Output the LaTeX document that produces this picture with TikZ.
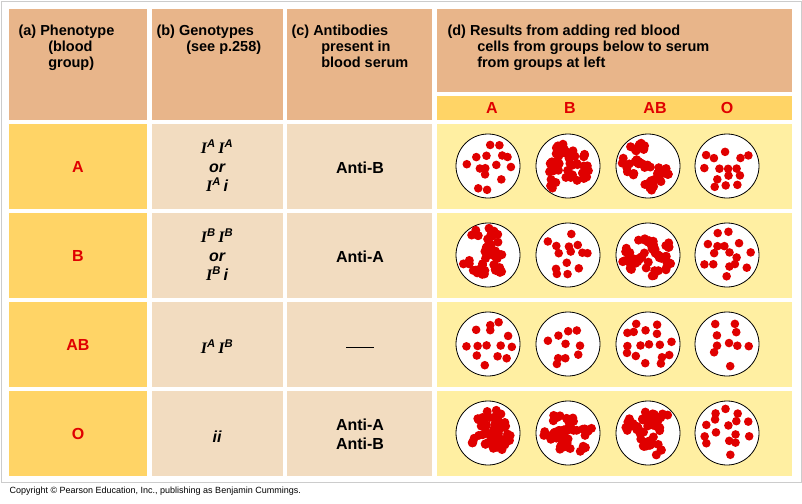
\documentclass[tikz,border=0pt]{standalone}
\usepackage{fontspec}
\setmainfont{Liberation Sans}
\newfontfamily\serifI{Liberation Serif}
\usetikzlibrary{calc}
\definecolor{hdr}{HTML}{E8B58A}
\definecolor{yel}{HTML}{FFD466}
\definecolor{pale}{HTML}{F2DCC0}
\definecolor{lyel}{HTML}{FFEFA2}
\definecolor{rd}{HTML}{E00000}
\newcommand{\gI}[1]{{\serifI\bfseries\itshape I}\textsuperscript{#1}}
\begin{document}
\begin{tikzpicture}[x=1pt,y=-1pt,
  hd/.style={font=\fontsize{14.5}{16}\selectfont\bfseries,align=left,anchor=north west},
  lab/.style={font=\fontsize{16}{17}\selectfont\bfseries,text=rd},
  txt/.style={font=\fontsize{16}{19}\selectfont\bfseries,align=center},
  gen/.style={font=\fontsize{16}{19}\selectfont\bfseries\itshape,align=center},
  dish/.style={circle,draw=black,thick,fill=white,minimum size=64pt,inner sep=0pt},
  cell/.style={fill=rd,draw=none}]
\fill[white] (0,0) rectangle (802,503);
\draw[gray!40] (1,1) rectangle (801,482);
% headers
\fill[hdr] (9,9) rectangle (147,120);
\fill[hdr] (152,9) rectangle (283,120);
\fill[hdr] (287,9) rectangle (432,120);
\fill[hdr] (437,9) rectangle (792,92);
\fill[yel] (437,96) rectangle (792,120);
\node[hd] (ha) at (15,21) {(a) Phenotype\\\hspace{2.05em}(blood\\\hspace{2.05em}group)};
\node[hd] (hb) at (153,21) {(b) Genotypes\\\hspace{2.05em}(see p.258)};
\node[hd] (hc) at (288,21) {(c) Antibodies\\\hspace{2.05em}present in\\\hspace{2.05em}blood serum};
\node[hd] (hd) at (444,21) {(d) Results from adding red blood\\\hspace{2.05em}cells from groups below to serum\\\hspace{2.05em}from groups at left};
\foreach \n/\x in {A/492,B/570,AB/655,O/727} \node[lab] (s\n) at (\x,108) {\n};
% rows
\foreach \i/\ya/\yb in {1/124/209,2/213/298,3/302/387,4/391/476}{
  \fill[yel] (9,\ya) rectangle (147,\yb);
  \fill[pale] (152,\ya) rectangle (283,\yb);
  \fill[pale] (287,\ya) rectangle (432,\yb);
  \fill[lyel] (437,\ya) rectangle (792,\yb);
}
\node[lab] (pA) at (78,167) {A};
\node[lab] (pB) at (78,256) {B};
\node[lab] (pAB) at (78,345) {AB};
\node[lab] (pO) at (78,434) {O};
\node[gen] (g1) at (217,166) {\gI{A}\,\gI{A}\\or\\\gI{A}\,i};
\node[gen] (g2) at (217,255) {\gI{B}\,\gI{B}\\or\\\gI{B}\,i};
\node[gen] (g3) at (217,347) {\gI{A}\,\gI{B}};
\node[gen] (g4) at (217,437) {ii};
\node[txt] (c1) at (360,168) {Anti-B};
\node[txt] (c2) at (360,257) {Anti-A};
\draw[thick] (346,347) -- (374,347);
\node[txt] (c4) at (360,434) {Anti-A\\Anti-B};
% dishes
\pgfmathsetseed{11}
\foreach \r/\y/\fl in {1/166/{0,1,1,0},2/255/{1,0,1,0},3/344/{0,0,0,0},4/433/{1,1,1,0}}{
  \foreach \x [count=\k] in {488,568,648,727}{
    \node[dish] (d\r\k) at (\x,\y) {};
    \pgfmathparse{{\fl}[\k-1]}\pgfmathtruncatemacro{\cl}{\pgfmathresult}
    \ifnum\cl=1
      \foreach \c in {1,...,15}{
        \pgfmathsetmacro{\ca}{rnd*360}\pgfmathsetmacro{\cr}{sqrt(rnd)*22}
        \foreach \j in {1,...,4}{
          \pgfmathsetmacro{\da}{rnd*360}\pgfmathsetmacro{\dr}{rnd*7}
          \fill[cell] ($(d\r\k)+(\ca:\cr)+(\da:\dr)$) circle (4.5);
        }}
    \else
      \foreach \gx in {-22,-11,...,22}{
        \foreach \gy in {-22,-11,...,22}{
          \pgfmathsetmacro{\jx}{\gx+rand*3.5}\pgfmathsetmacro{\jy}{\gy+rand*3.5}
          \pgfmathtruncatemacro{\ok}{(\jx*\jx+\jy*\jy<600)&&(rnd<0.88)}
          \ifnum\ok=1
            \fill[cell] ($(d\r\k)+(\jx,\jy)$) circle (4.3);
          \fi
        }}
    \fi
  }
}
\node[font=\fontsize{9}{10}\selectfont,anchor=west] (cp) at (6,491) {Copyright \textcopyright{} Pearson Education, Inc., publishing as Benjamin Cummings.};
\useasboundingbox (0,0) rectangle (802,503);
\end{tikzpicture}
\end{document}
